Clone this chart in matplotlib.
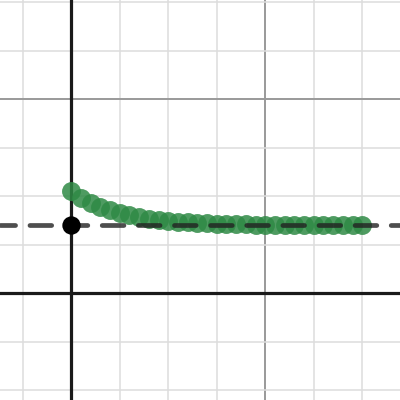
import matplotlib
matplotlib.use("Agg")
import matplotlib.pyplot as plt
import numpy as np

# === data ===
x_pts = [0.0, 0.1, 0.2, 0.3, 0.4, 0.5, 0.6, 0.7, 0.8, 0.9, 1.0,
         1.1, 1.2, 1.3, 1.4, 1.5, 1.6, 1.7, 1.8, 1.9, 2.0,
         2.1, 2.2, 2.3, 2.4, 2.5, 2.6, 2.7, 2.8, 2.9, 3.0]
y_pts = [1.050, 0.987, 0.935, 0.892, 0.857, 0.829, 0.805, 0.786, 0.771, 0.758, 0.747,
         0.739, 0.732, 0.726, 0.721, 0.717, 0.714, 0.712, 0.710, 0.708, 0.706,
         0.705, 0.704, 0.703, 0.703, 0.702, 0.702, 0.701, 0.701, 0.701, 0.701]
asymptote = 0.7
start_point = (0.0, 0.7)

# view window (Desmos style)
x_lim = (-0.735, 3.389)
y_lim = (-1.100, 3.024)

fig = plt.figure(figsize=(4, 4), dpi=100)
ax = fig.add_axes([0, 0, 1, 1])
ax.set_xlim(*x_lim)
ax.set_ylim(*y_lim)
ax.axis('off')

# grid: minor every 0.5, major every 2
for v in np.arange(-0.5, 3.5, 0.5):
    if v == 0:
        continue
    major = (v % 2 == 0)
    ax.axvline(v, color='#999999' if major else '#dddddd',
               lw=1.4 if major else 1.1, zorder=0)
for v in np.arange(-1.0, 3.5, 0.5):
    if v == 0:
        continue
    major = (v % 2 == 0)
    ax.axhline(v, color='#999999' if major else '#dddddd',
               lw=1.4 if major else 1.1, zorder=0)

# axes
ax.axhline(0, color='#1a1a1a', lw=2.3, zorder=1)
ax.axvline(0, color='#1a1a1a', lw=2.3, zorder=1)

# green points
ax.plot(x_pts, y_pts, 'o', color='#2f8a45', alpha=0.85, markersize=13.6,
        markeredgewidth=0, zorder=3)

# dashed asymptote
ax.plot(x_lim, [asymptote, asymptote], color='#222222', alpha=0.8,
        lw=3.4, dash_capstyle='round', linestyle=(1.41, (4.6, 3.05)), zorder=4)

# black point
ax.plot([start_point[0]], [start_point[1]], 'o', color='black', markersize=13.2,
        markeredgewidth=0, zorder=5)

fig.savefig('out.png', dpi=100)
